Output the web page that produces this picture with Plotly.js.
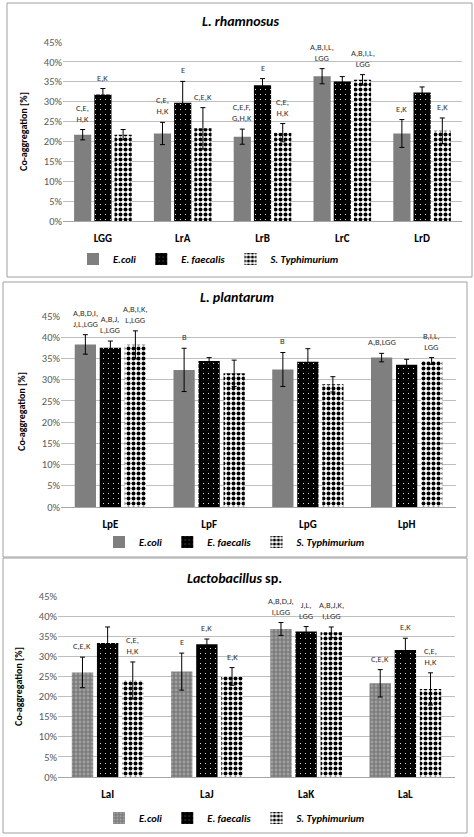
<!DOCTYPE html>
<html>
<head>
<meta charset="utf-8">
<script src="https://cdn.plot.ly/plotly-3.0.1.min.js"></script>
<style>
  html, body { margin: 0; padding: 0; background: #fff; }
  #chart { width: 474px; height: 837px; }
</style>
</head>
<body>
<div id="chart"></div>
<script>
// ---- L. rhamnosus ----
var cats1 = ['LGG', 'LrA', 'LrB', 'LrC', 'LrD'];
var ecoli1 = [21.7, 22.0, 21.2, 36.4, 22.0];
var ecoli1Err = [1.3, 2.8, 1.9, 1.9, 3.5];
var faec1 = [31.8, 29.7, 34.1, 35.1, 32.3];
var faec1Err = [1.5, 5.4, 1.7, 1.2, 1.4];
var typh1 = [21.7, 23.3, 22.2, 35.5, 22.7];
var typh1Err = [1.3, 5.2, 2.3, 1.3, 3.2];
var ecoli1Lab = ['C,E,<br>H,K', 'C,E,<br>H,K', 'C,E,F,<br>G,H,K', 'A,B,I,L,<br>LGG', 'E,K'];
var faec1Lab = ['E,K', 'E', 'E', '', ''];
var typh1Lab = ['', 'C,E,K', 'C,E,<br>H,K', 'A,B,I,L,<br>LGG', 'E,K'];

// ---- L. plantarum ----
var cats2 = ['LpE', 'LpF', 'LpG', 'LpH'];
var ecoli2 = [38.3, 32.3, 32.4, 35.2];
var ecoli2Err = [2.3, 5.1, 4.0, 1.0];
var faec2 = [37.5, 34.4, 34.2, 33.5];
var faec2Err = [1.6, 0.8, 3.1, 1.3];
var typh2 = [38.2, 31.5, 28.9, 34.4];
var typh2Err = [3.3, 3.1, 1.8, 0.8];
var ecoli2Lab = ['A,B,D,I,<br>J,L,LGG', 'B', 'B', 'A,B,LGG'];
var faec2Lab = ['A,B,J,<br>L,LGG', '', '', ''];
var typh2Lab = ['A,B,I,K,<br>L,LGG', '', '', 'B,I,L,<br>LGG'];

// ---- Lactobacillus sp. ----
var cats3 = ['LaI', 'LaJ', 'LaK', 'LaL'];
var ecoli3 = [26.0, 26.2, 36.8, 23.3];
var ecoli3Err = [3.8, 4.6, 1.6, 3.4];
var faec3 = [33.3, 33.0, 36.2, 31.6];
var faec3Err = [4.0, 1.3, 1.2, 2.9];
var typh3 = [24.0, 25.0, 36.0, 21.9];
var typh3Err = [4.6, 2.2, 1.3, 4.0];
var ecoli3Lab = ['C,E,K', 'E', 'A,B,D,J,<br>I,LGG', 'C,E,K'];
var faec3Lab = ['', 'E,K', 'J,L,<br>LGG', 'E,K'];
var typh3Lab = ['C,E,<br>H,K', 'E,K', 'A,B,J,K,<br>I,LGG', 'C,E,<br>H,K'];

var seriesNames = ['<i>E.coli</i>', '<i>E. faecalis</i>', '<i>S. Typhimurium</i>'];
var panelTitles = ['<b><i>L. rhamnosus</i></b>', '<b><i>L. plantarum</i></b>', '<b><i>Lactobacillus</i> sp.</b>'];

var W = 474, H = 837;
function px(x) { return x / W; }
function py(y) { return 1 - y / H; }

var FONT = "Carlito, 'Liberation Sans Narrow', 'Liberation Sans', Arial, sans-serif";
var BARGAP = 0.24;

var markers = {
  ecoliSolid: { color: '#7f7f7f', line: { width: 0 } },
  ecoliChecker: { color: '#858585', line: { width: 0 },
    pattern: { shape: '.', bgcolor: '#7c7c7c', fgcolor: '#a0a0a0', size: 4, solidity: 0.4, fillmode: 'replace' } },
  faec: { color: '#000000', line: { width: 0 },
    pattern: { shape: '.', bgcolor: '#000000', fgcolor: '#ffffff', size: 5, solidity: 0.04, fillmode: 'replace' } },
  typh: { color: '#ffffff', line: { width: 0 },
    pattern: { shape: '.', bgcolor: '#ffffff', fgcolor: '#000000', size: 5, solidity: 0.5, fillmode: 'replace' } }
};

var panels = [
  { cats: cats1, vals: [ecoli1, faec1, typh1], errs: [ecoli1Err, faec1Err, typh1Err],
    labs: [ecoli1Lab, faec1Lab, typh1Lab], mk: [markers.ecoliSolid, markers.faec, markers.typh],
    xd: [63, 462], y0: 221, y45: 42, frame: [7, 3, 472, 277], titleY: 21, legY: 259, legX: 209 },
  { cats: cats2, vals: [ecoli2, faec2, typh2], errs: [ecoli2Err, faec2Err, typh2Err],
    labs: [ecoli2Lab, faec2Lab, typh2Lab], mk: [markers.ecoliSolid, markers.faec, markers.typh],
    xd: [61, 456], y0: 507, y45: 316, frame: [3, 282, 467, 557], titleY: 298, legY: 542, legX: 235 },
  { cats: cats3, vals: [ecoli3, faec3, typh3], errs: [ecoli3Err, faec3Err, typh3Err],
    labs: [ecoli3Lab, faec3Lab, typh3Lab], mk: [markers.ecoliChecker, markers.faec, markers.typh],
    xd: [58, 455], y0: 777, y45: 596, frame: [3, 558, 467, 833], titleY: 578, legY: 818, legX: 235 }
];

var traces = [];
var annotations = [];
var shapes = [];
var layout = {
  width: W, height: H,
  margin: { l: 0, r: 0, t: 0, b: 0 },
  paper_bgcolor: '#ffffff', plot_bgcolor: 'rgba(0,0,0,0)',
  font: { family: FONT, color: '#404040', size: 10 },
  barmode: 'group', bargap: BARGAP, bargroupgap: 0.15
};

panels.forEach(function (p, k) {
  var sfx = k === 0 ? '' : String(k + 1);
  var xa = 'x' + sfx, ya = 'y' + sfx;
  var leg = 'legend' + sfx;

  for (var s = 0; s < 3; s++) {
    traces.push({
      type: 'bar', name: seriesNames[s],
      x: p.cats, y: p.vals[s],
      xaxis: xa, yaxis: ya, legend: leg,
      marker: p.mk[s],
      error_y: { type: 'data', array: p.errs[s], visible: true, color: '#000000', thickness: 1, width: 2.5 },
      hoverinfo: 'x+y'
    });
    // significance letters above each error bar
    var slot = (1 - BARGAP) / 3;
    for (var i = 0; i < p.cats.length; i++) {
      if (!p.labs[s][i]) continue;
      annotations.push({
        xref: xa, yref: ya,
        x: i + (s - 1) * slot, y: p.vals[s][i] + p.errs[s][i],
        text: p.labs[s][i], showarrow: false,
        xanchor: 'center', yanchor: 'bottom', yshift: 4,
        font: { size: 8.5, color: '#333333', family: FONT }
      });
    }
  }

  layout['xaxis' + sfx] = {
    domain: [px(p.xd[0]), px(p.xd[1])], anchor: ya,
    type: 'category', showgrid: false, zeroline: false,
    showline: true, linecolor: '#a6a6a6', linewidth: 1,
    ticks: '', ticklabelstandoff: 7,
    tickfont: { size: 11, color: '#000000', family: FONT, weight: 'bold' },
    fixedrange: true
  };
  layout['yaxis' + sfx] = {
    domain: [py(p.y0), py(p.y45)], anchor: xa,
    range: [0, 45], dtick: 5, ticksuffix: '%',
    showgrid: true, gridcolor: '#bfbfbf', gridwidth: 1,
    zeroline: false, showline: false, ticks: '',
    tickfont: { size: 10.5, color: '#595959', family: FONT },
    title: { text: '<b>Co-aggregation [%]</b>', font: { size: 10, color: '#000000', family: FONT }, standoff: 14 },
    fixedrange: true
  };
  layout[leg] = {
    orientation: 'h', x: px(p.legX), xanchor: 'center', y: py(p.legY), yanchor: 'middle',
    font: { size: 10.5, color: '#000000', family: FONT, weight: 'bold' },
    bgcolor: 'rgba(0,0,0,0)', itemwidth: 30, tracegroupgap: 0
  };

  annotations.push({
    xref: 'paper', yref: 'paper', x: px((p.xd[0] + p.xd[1]) / 2 - 22), y: py(p.titleY),
    xanchor: 'center', yanchor: 'middle', showarrow: false,
    text: panelTitles[k], font: { size: 14, color: '#000000', family: FONT }
  });

  shapes.push({
    type: 'rect', xref: 'paper', yref: 'paper',
    x0: px(p.frame[0]), x1: px(p.frame[2]), y0: py(p.frame[3]), y1: py(p.frame[1]),
    line: { color: '#a0a0a0', width: 1 }, fillcolor: 'rgba(0,0,0,0)', layer: 'below'
  });
});

layout.annotations = annotations;
layout.shapes = shapes;

Plotly.newPlot('chart', traces, layout, { displayModeBar: false, staticPlot: true });
</script>
</body>
</html>
